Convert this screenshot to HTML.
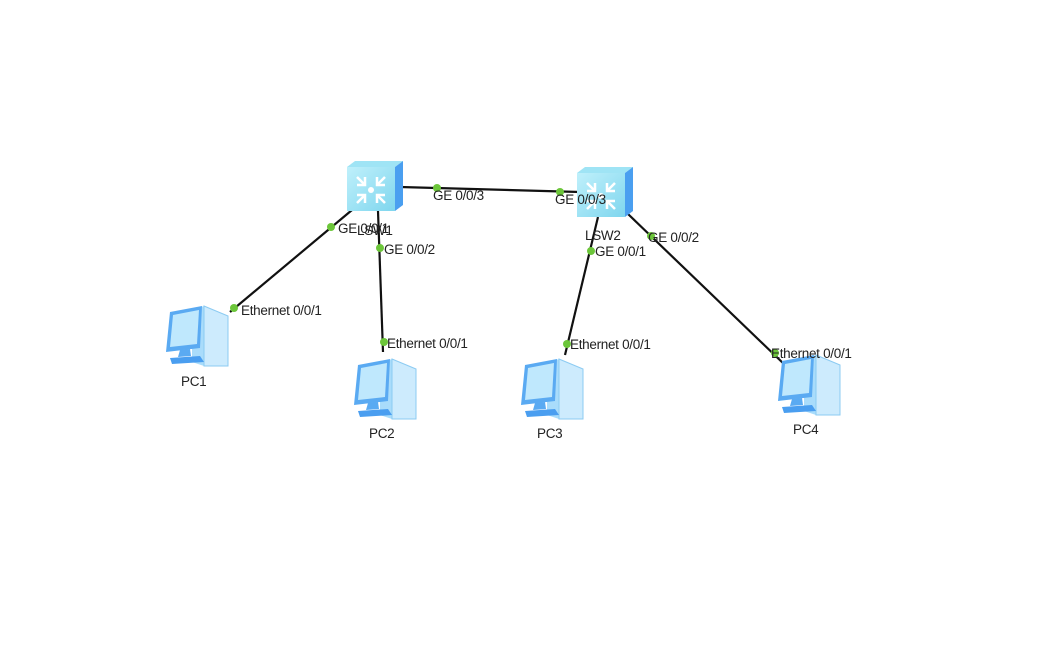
<!DOCTYPE html>
<html><head><style>body{margin:0;background:#fff}svg{display:block}text{font-family:"Liberation Sans",sans-serif;font-size:13.5px;fill:#222;letter-spacing:-0.3px}</style></head><body>
<svg width="1039" height="649" viewBox="0 0 1039 649">
<defs>
<linearGradient id="sw" x1="0" y1="0" x2="1" y2="1"><stop offset="0" stop-color="#bff0fb"/><stop offset="1" stop-color="#7fd6ee"/></linearGradient>
<g id="switch">
<polygon points="0,6 8,0 56,0 48,6" fill="#9fe4f5"/>
<polygon points="48,6 56,0 56,44 48,50" fill="#4a9ff0"/>
<rect x="0" y="6" width="48" height="44" fill="url(#sw)"/>
<g stroke="#fff" stroke-width="2.5" fill="none"><path d="M10,16 l8,8 M18,16 v8 h-8"/><path d="M38,16 l-8,8 M30,16 v8 h8"/><path d="M10,42 l8,-8 M18,42 v-8 h-8"/><path d="M38,42 l-8,-8 M30,42 v-8 h8"/></g>
<circle cx="24" cy="29" r="3" fill="#fff"/>
</g>
<g id="pc">
<polygon points="28,6 40,2 64,12 64,62 40,62 28,58" fill="#a9dcfb"/>
<polygon points="40,2 64,12 64,62 40,62" fill="#cdebfd" stroke="#8ccbf2" stroke-width="1"/>
<polygon points="6,8 38,2 36,44 2,48" fill="#5aaaf2"/>
<polygon points="9,11 35,6 33,40 6,43" fill="#bfe8fd"/>
<polygon points="16,46 26,45 27,52 14,53" fill="#5aaaf2"/>
<polygon points="6,54 36,52 40,58 8,60" fill="#4a9ef0"/>
</g>
</defs>
<g stroke="#111" stroke-width="2.2">
<line x1="352" y1="210" x2="230" y2="312"/>
<line x1="378" y1="211" x2="383" y2="352"/>
<line x1="400" y1="187" x2="580" y2="192"/>
<line x1="598" y1="217" x2="565" y2="355"/>
<line x1="628" y1="214" x2="785" y2="365"/>
</g>
<use href="#switch" x="347" y="161"/>
<use href="#switch" x="577" y="167"/>
<use href="#pc" x="164" y="304"/>
<use href="#pc" x="352" y="357"/>
<use href="#pc" x="519" y="357"/>
<use href="#pc" x="776" y="353"/>
<g fill="#6cc63a">
<circle cx="331" cy="227" r="4"/><circle cx="380" cy="248" r="4"/><circle cx="437" cy="188" r="4"/><circle cx="560" cy="192" r="4"/>
<circle cx="591" cy="251" r="4"/><circle cx="651" cy="236" r="4"/><circle cx="234" cy="308" r="4"/><circle cx="384" cy="342" r="4"/>
<circle cx="567" cy="344" r="4"/><circle cx="775" cy="353" r="4"/>
</g>
<text x="338" y="233">GE 0/0/1</text>
<text x="357" y="235">LSW1</text>
<text x="384" y="254">GE 0/0/2</text>
<text x="433" y="200">GE 0/0/3</text>
<text x="555" y="204">GE 0/0/3</text>
<text x="585" y="240">LSW2</text>
<text x="595" y="256">GE 0/0/1</text>
<text x="648" y="242">GE 0/0/2</text>
<text x="241" y="315">Ethernet 0/0/1</text>
<text x="387" y="348">Ethernet 0/0/1</text>
<text x="570" y="349">Ethernet 0/0/1</text>
<text x="771" y="358">Ethernet 0/0/1</text>
<text x="181" y="386">PC1</text>
<text x="369" y="438">PC2</text>
<text x="537" y="438">PC3</text>
<text x="793" y="434">PC4</text>
</svg>
</body></html>
